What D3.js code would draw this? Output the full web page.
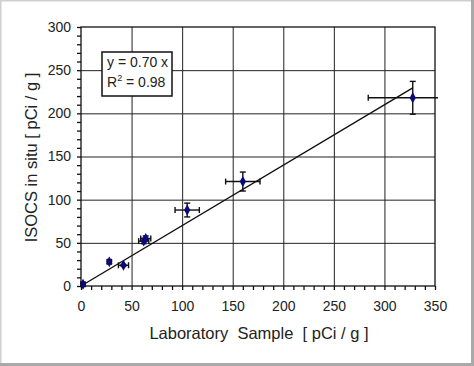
<!DOCTYPE html>
<html>
<head>
<meta charset="utf-8">
<script src="https://cdn.jsdelivr.net/npm/d3@7"></script>
<style>
  html, body { margin: 0; padding: 0; background: #fff; }
  svg { display: block; font-family: "Liberation Sans", Arial, sans-serif; }
</style>
</head>
<body>
<div id="chart"></div>
<script>
// data
const labX = [2, 28, 42, 62, 64, 105, 160, 328];
const isocsY = [2, 28, 24, 52, 55, 88, 121, 218];
const errX = [2, 2, 5, 5, 5, 12, 17, 44];
const errY = [2, 2, 1, 3, 3, 8, 11, 19];
const fitSlope = 0.70;
const fitR2 = 0.98;
const xTicks = [0, 50, 100, 150, 200, 250, 300, 350];
const yTicks = [0, 50, 100, 150, 200, 250, 300];

const W = 474, H = 366;
const m = {left: 81, right: 39, top: 27, bottom: 80};

const svg = d3.select('#chart').append('svg')
  .attr('width', W)
  .attr('height', H);

// outer frame
svg.append('rect').attr('x', 0).attr('y', 0).attr('width', W).attr('height', H).attr('fill', '#a9a9a9');
svg.append('rect').attr('x', 0).attr('y', 0).attr('width', W - 3).attr('height', H - 3).attr('fill', '#cfcfcf');
svg.append('rect').attr('x', 1.5).attr('y', 1.5).attr('width', W - 4.5).attr('height', H - 4.5).attr('fill', '#fff');

const x = d3.scaleLinear().domain([0, 350]).range([m.left, W - m.right]);
const y = d3.scaleLinear().domain([0, 300]).range([H - m.bottom, m.top]);

const g = svg.append('g');

// grid
g.selectAll('.vgrid').data(xTicks.slice(1, -1)).enter().append('line')
  .attr('x1', d => x(d) + 0.5).attr('x2', d => x(d) + 0.5)
  .attr('y1', y(0)).attr('y2', y(300))
  .style('stroke', '#222').style('stroke-width', 1);
g.selectAll('.hgrid').data(yTicks.slice(1, -1)).enter().append('line')
  .attr('y1', d => y(d) + 0.5).attr('y2', d => y(d) + 0.5)
  .attr('x1', x(0)).attr('x2', x(350))
  .style('stroke', '#222').style('stroke-width', 1);

// plot frame
g.append('rect')
  .attr('x', x(0)).attr('y', y(300))
  .attr('width', x(350) - x(0)).attr('height', y(0) - y(300))
  .style('fill', 'none').style('stroke', '#111').style('stroke-width', 1.3);

// axes
const xAxis = g.append('g')
  .attr('transform', `translate(0,${y(0)})`)
  .call(d3.axisBottom(x).tickValues(d3.range(0, 351, 10)).tickSize(4)
    .tickFormat(d => xTicks.includes(d) ? d : ''));
const yAxis = g.append('g')
  .attr('transform', `translate(${x(0)},0)`)
  .call(d3.axisLeft(y).tickValues(d3.range(0, 301, 10)).tickSize(4)
    .tickFormat(d => yTicks.includes(d) ? d : ''));
[xAxis, yAxis].forEach(a => {
  a.select('.domain').remove();
  a.selectAll('line').style('stroke', '#111').style('stroke-width', 1.3);
  a.selectAll('text').style('font-size', '14px').style('fill', '#222')
    .style('font-family', '"Liberation Sans", Arial, sans-serif');
});
xAxis.selectAll('text').attr('dy', '1.25em');
yAxis.selectAll('text').attr('x', -10);

// error bars (clip a little beyond the frame)
svg.append('clipPath').attr('id', 'clip').append('rect')
  .attr('x', x(0) - 10).attr('y', y(300) - 10)
  .attr('width', x(350) - x(0) + 13).attr('height', y(0) - y(300) + 20);

const pts = labX.map((v, i) => ({x: v, y: isocsY[i], ex: errX[i], ey: errY[i]}));
const eb = g.append('g').attr('clip-path', 'url(#clip)')
  .style('stroke', '#111').style('stroke-width', 1.4).style('fill', 'none');
const cap = 3;
pts.forEach(p => {
  eb.append('line').attr('x1', x(p.x - p.ex)).attr('x2', x(p.x + p.ex))
    .attr('y1', y(p.y)).attr('y2', y(p.y));
  eb.append('line').attr('x1', x(p.x)).attr('x2', x(p.x))
    .attr('y1', y(p.y - p.ey)).attr('y2', y(p.y + p.ey));
  [p.x - p.ex, p.x + p.ex].forEach(v => {
    if (v <= 350) eb.append('line').attr('x1', x(v)).attr('x2', x(v))
      .attr('y1', y(p.y) - cap).attr('y2', y(p.y) + cap);
  });
  [p.y - p.ey, p.y + p.ey].forEach(v => {
    eb.append('line').attr('y1', y(v)).attr('y2', y(v))
      .attr('x1', x(p.x) - cap).attr('x2', x(p.x) + cap);
  });
});

// regression line
g.append('line')
  .attr('x1', x(0)).attr('y1', y(0))
  .attr('x2', x(d3.max(labX))).attr('y2', y(fitSlope * d3.max(labX)))
  .style('stroke', '#111').style('stroke-width', 1.4);

// markers
g.selectAll('.pt').data(pts).enter().append('path')
  .attr('transform', d => `translate(${x(d.x)},${y(d.y)})`)
  .attr('d', d3.symbol(d3.symbolDiamond, 34))
  .style('fill', '#0a0a78');

// equation box
const box = g.append('g');
box.append('rect').attr('x', 102).attr('y', 52).attr('width', 70).attr('height', 44)
  .style('fill', '#fff').style('stroke', '#111').style('stroke-width', 1.5);
box.append('text').attr('x', 107).attr('y', 67)
  .style('font-size', '14px').style('fill', '#222')
  .text(`y = ${fitSlope.toFixed(2)} x`);
const r2 = box.append('text').attr('x', 107).attr('y', 87)
  .style('font-size', '14px').style('fill', '#222');
r2.append('tspan').text('R');
r2.append('tspan').attr('dy', -6).style('font-size', '9px').text('2');
r2.append('tspan').attr('dy', 6).text(` = ${fitR2.toFixed(2)}`);

// axis titles
svg.append('text')
  .attr('x', (x(0) + x(350)) / 2 + 1).attr('y', 339)
  .attr('text-anchor', 'middle')
  .style('font-size', '16.5px').style('fill', '#222').style('white-space', 'pre')
  .text('Laboratory  Sample  [ pCi / g ]');
svg.append('text')
  .attr('transform', `translate(37,${(y(0) + y(300)) / 2 + 1}) rotate(-90)`)
  .attr('text-anchor', 'middle')
  .style('font-size', '16.5px').style('fill', '#222').style('white-space', 'pre')
  .text('ISOCS in situ [ pCi / g ]');
</script>
</body>
</html>
